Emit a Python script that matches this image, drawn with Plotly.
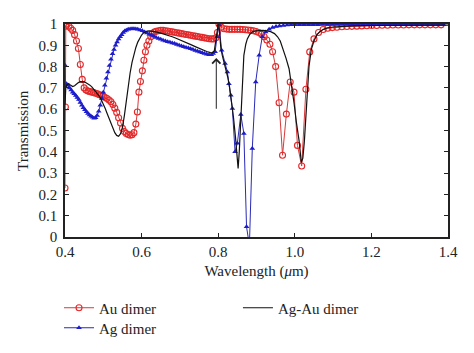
import plotly.graph_objects as go

# ---------------- data ----------------
au_wl = [0.400, 0.401, 0.402, 0.405, 0.410, 0.415, 0.420, 0.425, 0.430, 0.435, 0.440, 0.445,
         0.450, 0.455, 0.460, 0.465, 0.470, 0.475, 0.480, 0.485, 0.490, 0.495, 0.500, 0.505,
         0.510, 0.515, 0.520, 0.525, 0.530, 0.535, 0.540, 0.545, 0.550, 0.555, 0.560, 0.565,
         0.570, 0.575, 0.580, 0.585, 0.589, 0.593, 0.597, 0.602, 0.606, 0.610, 0.614, 0.619,
         0.624, 0.628, 0.633, 0.638, 0.644, 0.650, 0.656, 0.662, 0.668, 0.674, 0.680, 0.686,
         0.692, 0.698, 0.704, 0.710, 0.716, 0.722, 0.728, 0.734, 0.740, 0.746, 0.752, 0.758,
         0.764, 0.770, 0.776, 0.782, 0.788, 0.794, 0.798, 0.802, 0.808, 0.815, 0.822, 0.829,
         0.836, 0.843, 0.850, 0.857, 0.864, 0.871, 0.878, 0.885, 0.892, 0.899, 0.906, 0.913,
         0.920, 0.927, 0.935, 0.942, 0.950, 0.959, 0.968, 0.978, 0.988, 0.998, 1.007, 1.018,
         1.029, 1.039, 1.050, 1.062, 1.074, 1.086, 1.098, 1.110, 1.123, 1.136, 1.149, 1.162,
         1.175, 1.188, 1.201, 1.214, 1.228, 1.242, 1.256, 1.270, 1.284, 1.298, 1.312, 1.326,
         1.340, 1.354, 1.368, 1.382]
au_t = [0.23, 0.61, 0.99, 1.00, 0.99, 0.98, 0.97, 0.95, 0.92, 0.885, 0.81, 0.74,
        0.70, 0.69, 0.685, 0.683, 0.68, 0.678, 0.675, 0.672, 0.668, 0.665, 0.66, 0.655,
        0.65, 0.643, 0.635, 0.622, 0.605, 0.585, 0.56, 0.535, 0.51, 0.495, 0.486, 0.481,
        0.478, 0.48, 0.49, 0.53, 0.587, 0.68, 0.73, 0.78, 0.83, 0.87, 0.90, 0.92,
        0.94, 0.955, 0.962, 0.966, 0.968, 0.97, 0.97, 0.968, 0.967, 0.965, 0.963, 0.961,
        0.959, 0.957, 0.955, 0.953, 0.951, 0.949, 0.947, 0.945, 0.943, 0.941, 0.939, 0.937,
        0.935, 0.933, 0.931, 0.930, 0.930, 0.935, 0.96, 1.0, 0.985, 0.978, 0.976, 0.975,
        0.975, 0.975, 0.975, 0.975, 0.974, 0.973, 0.972, 0.970, 0.968, 0.965, 0.96, 0.952,
        0.94, 0.925, 0.905, 0.87, 0.80, 0.63, 0.384, 0.577, 0.728, 0.68, 0.43, 0.333,
        0.694, 0.869, 0.93, 0.96, 0.974, 0.98, 0.983, 0.985, 0.987, 0.988, 0.989, 0.99,
        0.991, 0.992, 0.993, 0.993, 0.994, 0.994, 0.995, 0.995, 0.995, 0.996, 0.996, 0.996,
        0.996, 0.996, 0.996, 0.996]

ag_wl = [0.400, 0.401, 0.404, 0.408, 0.412, 0.416, 0.420, 0.424, 0.428, 0.432, 0.436, 0.440,
         0.444, 0.448, 0.452, 0.456, 0.460, 0.464, 0.468, 0.472, 0.476, 0.480, 0.484, 0.488,
         0.492, 0.496, 0.500, 0.504, 0.508, 0.512, 0.516, 0.520, 0.524, 0.528, 0.532, 0.536,
         0.540, 0.544, 0.548, 0.552, 0.556, 0.560, 0.565, 0.570, 0.575, 0.580, 0.585, 0.590,
         0.596, 0.602, 0.608, 0.614, 0.620, 0.626, 0.632, 0.638, 0.644, 0.650, 0.656, 0.662,
         0.668, 0.674, 0.680, 0.686, 0.692, 0.698, 0.704, 0.710, 0.716, 0.722, 0.728, 0.734,
         0.740, 0.746, 0.752, 0.758, 0.764, 0.770, 0.776, 0.782, 0.787, 0.792, 0.797, 0.802,
         0.809, 0.818, 0.824, 0.828, 0.833, 0.837, 0.844, 0.850, 0.859, 0.867, 0.874, 0.8815,
         0.889, 0.898, 0.907, 0.915, 0.924, 0.933, 0.942, 0.951, 0.960, 0.970, 0.980, 0.990,
         1.000, 1.012, 1.024, 1.036, 1.048, 1.060, 1.072, 1.085, 1.098, 1.111, 1.124, 1.137,
         1.150, 1.164, 1.178, 1.192, 1.206, 1.220, 1.234, 1.248, 1.262, 1.276, 1.290, 1.304,
         1.318, 1.332, 1.346, 1.360, 1.374, 1.388]
ag_t = [0.806, 0.705, 0.72, 0.712, 0.70, 0.69, 0.68, 0.672, 0.664, 0.655, 0.645, 0.632,
        0.619, 0.607, 0.597, 0.588, 0.58, 0.573, 0.567, 0.562, 0.558, 0.56, 0.57, 0.59,
        0.619, 0.65, 0.68, 0.713, 0.745, 0.775, 0.805, 0.835, 0.86, 0.88, 0.90, 0.915,
        0.93, 0.94, 0.95, 0.96, 0.967, 0.971, 0.975, 0.977, 0.978, 0.978, 0.977, 0.975,
        0.972, 0.968, 0.963, 0.958, 0.952, 0.947, 0.942, 0.937, 0.932, 0.928, 0.924, 0.92,
        0.917, 0.914, 0.911, 0.908, 0.904, 0.90, 0.897, 0.893, 0.89, 0.887, 0.884, 0.88,
        0.876, 0.872, 0.869, 0.865, 0.861, 0.858, 0.856, 0.856, 0.861, 0.87, 0.94, 0.997,
        0.877, 0.814, 0.775, 0.72, 0.666, 0.603, 0.40, 0.44, 0.575, 0.486, 0.048, -0.04,
        0.416, 0.728, 0.853, 0.94, 0.962, 0.975, 0.983, 0.988, 0.991, 0.993, 0.995, 0.996,
        0.997, 0.997, 0.997, 0.997, 0.997, 0.997, 0.998, 0.998, 0.998, 0.998, 0.998, 0.998,
        0.998, 0.998, 0.998, 0.998, 0.998, 0.998, 0.998, 0.998, 0.998, 0.998, 0.998, 0.998,
        0.998, 0.998, 0.998, 0.998, 0.998, 0.998]

agau_wl = [0.400, 0.402, 0.405, 0.410, 0.415, 0.420, 0.425, 0.430, 0.435, 0.440, 0.445, 0.450,
           0.455, 0.460, 0.465, 0.470, 0.475, 0.480, 0.485, 0.490, 0.495, 0.500, 0.505, 0.510,
           0.515, 0.520, 0.525, 0.530, 0.535, 0.540, 0.545, 0.550, 0.555, 0.560, 0.565, 0.570,
           0.575, 0.580, 0.585, 0.590, 0.595, 0.600, 0.605, 0.610, 0.615, 0.620, 0.630, 0.640,
           0.650, 0.660, 0.670, 0.680, 0.690, 0.700, 0.710, 0.720, 0.730, 0.740, 0.750, 0.760,
           0.770, 0.780, 0.785, 0.790, 0.795, 0.800, 0.803, 0.807, 0.811, 0.815, 0.820, 0.825,
           0.830, 0.835, 0.840, 0.845, 0.850, 0.852, 0.855, 0.859, 0.863, 0.867, 0.872, 0.876,
           0.882, 0.889, 0.897, 0.907, 0.917, 0.927, 0.937, 0.947, 0.955, 0.962, 0.970, 0.977,
           0.985, 0.992, 0.998, 1.004, 1.011, 1.017, 1.021, 1.025, 1.029, 1.033, 1.037, 1.043,
           1.050, 1.058, 1.066, 1.075, 1.085, 1.100, 1.120, 1.150, 1.200, 1.250, 1.300, 1.350,
           1.400]
agau_t = [0.62, 0.70, 0.715, 0.72, 0.712, 0.706, 0.71, 0.718, 0.725, 0.729, 0.73, 0.728,
          0.724, 0.719, 0.713, 0.705, 0.695, 0.683, 0.672, 0.66, 0.643, 0.625, 0.603, 0.58,
          0.555, 0.53, 0.51, 0.49, 0.477, 0.473, 0.485, 0.515, 0.57, 0.64, 0.71, 0.77,
          0.82, 0.86, 0.89, 0.915, 0.935, 0.948, 0.958, 0.964, 0.967, 0.968, 0.966, 0.962,
          0.957, 0.952, 0.946, 0.94, 0.933, 0.926, 0.918, 0.91, 0.902, 0.894, 0.886, 0.878,
          0.871, 0.866, 0.865, 0.875, 0.93, 1.0, 0.97, 0.885, 0.85, 0.822, 0.79, 0.75,
          0.70, 0.64, 0.56, 0.47, 0.36, 0.322, 0.40, 0.572, 0.728, 0.853, 0.905, 0.93,
          0.95, 0.963, 0.968, 0.97, 0.97, 0.968, 0.964, 0.955, 0.94, 0.92, 0.88, 0.84,
          0.79, 0.71, 0.63, 0.54, 0.455, 0.35, 0.37, 0.45, 0.57, 0.70, 0.80, 0.88,
          0.92, 0.95, 0.965, 0.975, 0.982, 0.986, 0.989, 0.991, 0.993, 0.994, 0.995, 0.995,
          0.995]

x_ticks = [0.4, 0.6, 0.8, 1.0, 1.2, 1.4]
x_tick_labels = ["0.4", "0.6", "0.8", "1.0", "1.2", "1.4"]
y_ticks = [0, 0.1, 0.2, 0.3, 0.4, 0.5, 0.6, 0.7, 0.8, 0.9, 1.0]
y_tick_labels = ["0", "0.1", "0.2", "0.3", "0.4", "0.5", "0.6", "0.7", "0.8", "0.9", "1"]

arrow_x = 0.795
arrow_tail_t = 0.595
arrow_head_t = 0.84

# ---------------- figure ----------------
RED = "#e3282a"
BLUE = "#1d1dcc"
FONT = "'Liberation Serif', 'Times New Roman', serif"
TXT = "#222222"

fig = go.Figure()
fig.add_trace(go.Scatter(
    x=au_wl, y=au_t, name="Au dimer", mode="lines+markers",
    line=dict(color="#d83a3a", width=1),
    marker=dict(symbol="circle-open", size=6, color=RED, line=dict(width=1.1, color=RED)),
    legend="legend",
))
fig.add_trace(go.Scatter(
    x=ag_wl, y=ag_t, name="Ag dimer", mode="lines+markers",
    line=dict(color="#2a2ab8", width=1),
    marker=dict(symbol="triangle-up", size=5, color=BLUE),
    legend="legend3",
))
fig.add_trace(go.Scatter(
    x=agau_wl, y=agau_t, name="Ag-Au dimer", mode="lines",
    line=dict(color="#111111", width=1.2),
    legend="legend2",
))

fig.add_annotation(
    x=arrow_x, y=arrow_head_t, ax=arrow_x, ay=arrow_tail_t,
    xref="x", yref="y", axref="x", ayref="y",
    text="", showarrow=True, arrowhead=4, arrowsize=1.6, arrowwidth=1, arrowcolor=TXT,
)
# y-axis title
fig.add_annotation(
    text="Transmission", textangle=-90, showarrow=False,
    xref="paper", yref="paper", x=-0.111, y=0.5, xanchor="center", yanchor="middle",
    font=dict(family=FONT, size=15, color=TXT),
)

axis_common = dict(
    showline=True, linecolor=TXT, linewidth=1.5, mirror="ticks",
    ticks="inside", ticklen=4, tickcolor=TXT, tickwidth=1,
    showgrid=False, zeroline=False,
    tickfont=dict(family=FONT, size=15, color=TXT),
)

leg_common = dict(xref="container", yref="container", xanchor="left", yanchor="middle",
                  orientation="v", font=dict(family=FONT, size=15, color=TXT),
                  bgcolor="rgba(0,0,0,0)", itemwidth=30, borderwidth=0)

fig.update_layout(
    width=474, height=353,
    margin=dict(l=64.5, r=26, t=23.5, b=116, autoexpand=False),
    paper_bgcolor="white", plot_bgcolor="white",
    font=dict(family=FONT, color=TXT),
    xaxis=dict(range=[0.4, 1.4], tickvals=x_ticks, ticktext=x_tick_labels,
               ticklabelstandoff=0,
               title=dict(text="Wavelength (<i>μ</i>m)", font=dict(family=FONT, size=15), standoff=7),
               **axis_common),
    yaxis=dict(range=[0, 1.0], tickvals=y_ticks, ticktext=y_tick_labels,
               ticklabelstandoff=3,
               **axis_common),
    legend=dict(x=0.1245, y=0.1275, **leg_common),
    legend3=dict(x=0.1245, y=0.0708, **leg_common),
    legend2=dict(x=0.502, y=0.1275, **leg_common),
    showlegend=True,
)

fig.write_html("out.html")
